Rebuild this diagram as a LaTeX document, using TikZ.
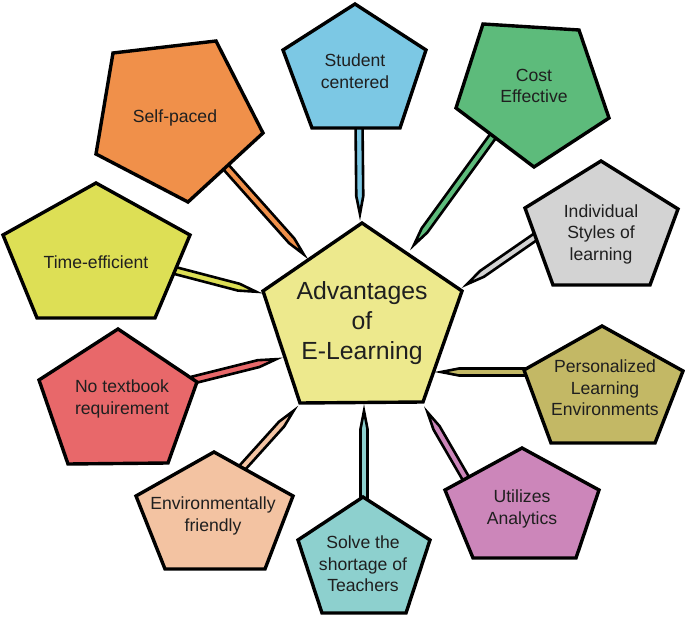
\documentclass[tikz,border=0pt]{standalone}
\usepackage{fontspec}
\setmainfont{Liberation Sans}
\usetikzlibrary{calc}
\definecolor{cCenter}{HTML}{EDE98D}
\definecolor{cSelf}{HTML}{F0904A}
\definecolor{cStudent}{HTML}{7CC8E4}
\definecolor{cCost}{HTML}{5DBB7B}
\definecolor{cIndiv}{HTML}{D3D3D3}
\definecolor{cPers}{HTML}{C3B865}
\definecolor{cUtil}{HTML}{CC86BA}
\definecolor{cSolve}{HTML}{8DD0CE}
\definecolor{cEnv}{HTML}{F3C3A2}
\definecolor{cNoText}{HTML}{E8686A}
\definecolor{cTime}{HTML}{DDDF55}
\tikzset{
  petal/.style={draw=black, line width=3.4pt, line join=miter},
  lbl/.style={font=\fontsize{17.6}{21.5}\selectfont, align=center, text=black!88, inner sep=0pt},
  pencilline/.style={draw=black, line width=2.6pt, line join=miter, miter limit=10}
}
\newcommand\mypencil[3]{%
  \coordinate (ptip) at ($(#2)!5pt!(#1)$);
  \coordinate (pq) at ($(ptip)!18pt!(#1)$);
  \draw[pencilline, fill=#3] ($(#1)!3.5pt!90:(ptip)$) -- ($(pq)!3.5pt!-90:(#1)$) -- (ptip) -- ($(pq)!3.5pt!90:(#1)$) -- ($(#1)!3.5pt!-90:(ptip)$) -- cycle;
}
\begin{document}
\begin{tikzpicture}[x=1pt,y=-1pt]
\useasboundingbox (0,0) rectangle (685,617);
% centre
\draw[petal, fill=cCenter] (362,223) -- (462,291) -- (423,402) -- (300,403) -- (263,291) -- cycle;
\node[font=\fontsize{24.8}{30}\selectfont, align=center, text=black!88, inner sep=0pt] (center) at (362,323) {Advantages\\of\\E-Learning};
% pencil ends
\coordinate (s1) at (225,166); \coordinate (t1) at (307,258);
\coordinate (s2) at (359,122); \coordinate (t2) at (360,219);
\coordinate (s3) at (496,132); \coordinate (t3) at (411,249);
\coordinate (s4) at (541,233); \coordinate (t4) at (463,287);
\coordinate (s5) at (530,372); \coordinate (t5) at (436,372);
\coordinate (s6) at (468.5,483); \coordinate (t6) at (425,408);
\coordinate (s7) at (364,500); \coordinate (t7) at (364,406);
\coordinate (s8) at (242,468); \coordinate (t8) at (297,407);
\coordinate (s9) at (193,380); \coordinate (t9) at (281,358);
\coordinate (s10) at (173,270); \coordinate (t10) at (261,293);
\mypencil{s1}{t1}{cSelf}
\mypencil{s2}{t2}{cStudent}
\mypencil{s3}{t3}{cCost}
\mypencil{s4}{t4}{cIndiv}
\mypencil{s5}{t5}{cPers}
\mypencil{s6}{t6}{cUtil}
\mypencil{s7}{t7}{cSolve}
\mypencil{s8}{t8}{cEnv}
\mypencil{s9}{t9}{cNoText}
\mypencil{s10}{t10}{cTime}
% outer pentagons
\draw[petal, fill=cSelf] (113,53) -- (216,41) -- (263,133) -- (188,202) -- (96,154) -- cycle;
\node[lbl] (selfpaced) at (175,118) {Self-paced};
\draw[petal, fill=cStudent] (355,4) -- (426,50) -- (400,128) -- (312,128) -- (283,50) -- cycle;
\node[lbl] (student) at (355,71) {Student\\centered};
\draw[petal, fill=cCost] (483,24) -- (579,30) -- (609,118) -- (534,167) -- (456,108) -- cycle;
\node[lbl] (cost) at (534,86) {Cost\\Effective};
\draw[petal, fill=cIndiv] (525,208) -- (601,161) -- (678,209) -- (650,285) -- (553,285) -- cycle;
\node[lbl] (indiv) at (601,234) {Individual\\Styles of\\learning};
\draw[petal, fill=cPers] (524,370) -- (602,326) -- (683,371) -- (655,443) -- (551,443) -- cycle;
\node[lbl] (pers) at (605,388) {Personalized\\Learning\\Environments};
\draw[petal, fill=cUtil] (445,490) -- (522,448) -- (599,490) -- (576,558) -- (473,558) -- cycle;
\node[lbl] (util) at (522,509) {Utilizes\\Analytics};
\draw[petal, fill=cSolve] (363,497) -- (430,540) -- (406,613) -- (322,613) -- (298,540) -- cycle;
\node[lbl] (solve) at (363,564) {Solve the\\shortage of\\Teachers};
\draw[petal, fill=cEnv] (136,496) -- (214,452) -- (293,496) -- (265,569) -- (165,569) -- cycle;
\node[lbl] (env) at (213,516) {Environmentally\\friendly};
\draw[petal, fill=cNoText] (39,380) -- (118,329) -- (197,382) -- (168,463) -- (68,464) -- cycle;
\node[lbl] (notext) at (122,399) {No textbook\\requirement};
\draw[petal, fill=cTime] (3,235) -- (96,183) -- (190,235) -- (155,318) -- (37,318) -- cycle;
\node[lbl] (time) at (96,262) {Time-efficient};
\end{tikzpicture}
\end{document}
